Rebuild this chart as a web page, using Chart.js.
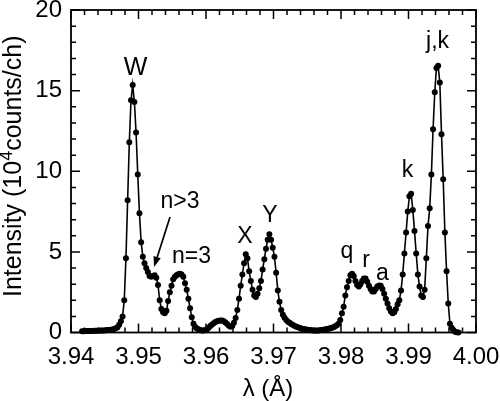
<!DOCTYPE html>
<html><head><meta charset="utf-8">
<script src="https://cdn.jsdelivr.net/npm/chart.js@4.4.1/dist/chart.umd.min.js"></script>
<style>html,body{margin:0;padding:0;background:#fff;}canvas{display:block;}</style>
</head><body>
<canvas id="c" width="500" height="401"></canvas>
<script>
// ---- data ----
const lambdaStart = 3.94164;   // first channel (Å)
const lambdaStep = 0.00025;    // channel width (Å)
const intensity = [
  0.08,0.08,0.09,0.09,0.10,0.10,0.10,0.11,0.11,0.11,
  0.12,0.12,0.12,0.13,0.14,0.15,0.16,0.17,0.19,0.22,
  0.27,0.33,0.48,0.70,1.00,2.00,4.60,8.20,11.80,14.40,
  15.35,14.30,12.40,9.80,7.40,5.60,4.70,4.30,4.00,3.75,
  3.50,3.45,3.50,3.55,3.40,2.95,2.00,1.45,1.25,1.20,
  1.35,1.95,2.50,2.90,3.30,3.45,3.55,3.62,3.65,3.60,
  3.45,3.05,2.65,2.10,1.50,0.95,0.55,0.35,0.25,0.20,
  0.15,0.12,0.12,0.15,0.20,0.30,0.40,0.50,0.58,0.65,
  0.70,0.73,0.75,0.74,0.70,0.62,0.52,0.42,0.36,0.40,
  0.60,0.90,1.40,2.10,2.90,3.60,4.30,4.85,4.60,3.80,
  3.20,2.65,2.30,2.20,2.40,2.75,3.20,3.90,4.55,5.20,
  5.75,6.10,5.75,5.25,4.70,3.70,2.60,1.90,1.40,1.10,
  0.92,0.78,0.66,0.60,0.52,0.46,0.40,0.36,0.32,0.28,
  0.25,0.22,0.20,0.18,0.16,0.15,0.14,0.13,0.13,0.13,
  0.13,0.14,0.15,0.17,0.19,0.21,0.24,0.27,0.30,0.33,
  0.38,0.45,0.55,0.78,1.20,1.60,2.30,2.80,3.20,3.55,
  3.65,3.50,3.20,2.95,2.85,3.00,3.20,3.35,3.35,3.15,
  2.90,2.70,2.55,2.55,2.70,2.85,2.92,2.90,2.70,2.40,
  2.10,1.80,1.50,1.30,1.20,1.25,1.45,1.75,2.00,2.60,
  3.60,4.90,6.20,7.50,8.45,8.60,7.60,6.30,4.90,3.60,
  2.85,2.30,2.20,2.65,4.60,6.60,7.70,9.80,12.60,14.90,
  16.40,16.55,15.50,12.30,9.50,6.20,3.80,1.80,0.55,0.30,
  0.15,0.05,0.02,0.00
];
const xTickValues = [3.94, 3.95, 3.96, 3.97, 3.98, 3.99, 4.00];
const yTickValues = [0, 5, 10, 15, 20];
const xMinorStep = 0.002;
const yMinorStep = 1;
const lineLabels = ['W', 'n>3', 'n=3', 'X', 'Y', 'q', 'r', 'a', 'k', 'j,k'];
const lineLabelX = [3.94956, 3.95615, 3.95785, 3.96578, 3.96948, 3.98089, 3.98370, 3.98615, 3.98985, 3.99430];
const lineLabelY = [15.99, 7.72, 4.31, 5.55, 6.85, 4.62, 4.06, 3.25, 9.64, 17.64];
const arrowFrom = [3.95467, 7.17];
const arrowTo = [3.9523, 4.06];

const FONT = '"Liberation Sans", Arial, Helvetica, sans-serif';
const points = intensity.map((v, i) => ({ x: lambdaStart + i * lambdaStep, y: v }));

const decor = {
  id: 'decor',
  beforeDatasetsDraw(chart) {
    const { ctx, chartArea: a, scales: { x, y } } = chart;
    ctx.save();
    ctx.strokeStyle = '#000';
    ctx.lineWidth = 1.8;
    ctx.strokeRect(a.left, a.top, a.right - a.left, a.bottom - a.top);
    ctx.lineWidth = 1.5;
    ctx.beginPath();
    const nx = Math.round((x.max - x.min) / xMinorStep);
    for (let k = 0; k <= nx; k++) {
      const px = x.getPixelForValue(x.min + k * xMinorStep);
      const L = k % 5 === 0 ? 9 : 5;
      ctx.moveTo(px, a.bottom); ctx.lineTo(px, a.bottom - L);
      ctx.moveTo(px, a.top); ctx.lineTo(px, a.top + L);
    }
    const ny = Math.round((y.max - y.min) / yMinorStep);
    for (let k = 0; k <= ny; k++) {
      const py = y.getPixelForValue(y.min + k * yMinorStep);
      const L = k % 5 === 0 ? 9 : 5;
      ctx.moveTo(a.left, py); ctx.lineTo(a.left + L, py);
      ctx.moveTo(a.right, py); ctx.lineTo(a.right - L, py);
    }
    ctx.stroke();
    ctx.restore();
  },
  afterDatasetsDraw(chart) {
    const { ctx, chartArea: a, scales: { x, y } } = chart;
    ctx.save();
    ctx.fillStyle = '#000';
    ctx.textAlign = 'center';
    ctx.textBaseline = 'alphabetic';
    lineLabels.forEach((t, i) => {
      ctx.font = (t === 'W' ? 25 : 23) + 'px ' + FONT;
      ctx.fillText(t, x.getPixelForValue(lineLabelX[i]), y.getPixelForValue(lineLabelY[i]));
    });
    // arrow
    const x0 = x.getPixelForValue(arrowFrom[0]), y0 = y.getPixelForValue(arrowFrom[1]);
    const x1 = x.getPixelForValue(arrowTo[0]), y1 = y.getPixelForValue(arrowTo[1]);
    const ang = Math.atan2(y1 - y0, x1 - x0);
    ctx.strokeStyle = '#000'; ctx.lineWidth = 1.7;
    ctx.beginPath(); ctx.moveTo(x0, y0);
    ctx.lineTo(x1 - 8 * Math.cos(ang), y1 - 8 * Math.sin(ang)); ctx.stroke();
    ctx.beginPath();
    ctx.moveTo(x1, y1);
    ctx.lineTo(x1 - 11 * Math.cos(ang - 0.35), y1 - 11 * Math.sin(ang - 0.35));
    ctx.lineTo(x1 - 11 * Math.cos(ang + 0.35), y1 - 11 * Math.sin(ang + 0.35));
    ctx.closePath(); ctx.fill();
    // x title
    ctx.font = '24px ' + FONT;
    ctx.fillText('λ (Å)', 268, 396);
    // y title
    ctx.translate(21, (a.top + a.bottom) / 2 - 5);
    ctx.rotate(-Math.PI / 2);
    const p1 = 'Intensity (10', p2 = '4', p3 = 'counts/ch)';
    ctx.font = '25px ' + FONT; const w1 = ctx.measureText(p1).width, w3 = ctx.measureText(p3).width;
    ctx.font = '18px ' + FONT; const w2 = ctx.measureText(p2).width;
    let sx = -(w1 + w2 + w3) / 2;
    ctx.textAlign = 'left';
    ctx.font = '25px ' + FONT; ctx.fillText(p1, sx, 0); sx += w1;
    ctx.font = '18px ' + FONT; ctx.fillText(p2, sx, -9); sx += w2;
    ctx.font = '25px ' + FONT; ctx.fillText(p3, sx, 0);
    ctx.restore();
  }
};

new Chart(document.getElementById('c'), {
  type: 'line',
  data: {
    datasets: [{
      data: points,
      borderColor: '#000',
      backgroundColor: '#000',
      borderWidth: 1.6,
      pointRadius: 3,
      pointBackgroundColor: '#000',
      pointBorderWidth: 0,
      tension: 0,
      clip: false
    }]
  },
  options: {
    responsive: false,
    animation: false,
    devicePixelRatio: 1,
    layout: { padding: { top: 10, right: 24, left: 0, bottom: 0 } },
    plugins: { legend: { display: false }, tooltip: { enabled: false } },
    scales: {
      x: {
        type: 'linear', min: 3.94, max: 4.00,
        grid: { display: false, drawTicks: false }, border: { display: false },
        afterBuildTicks: s => { s.ticks = xTickValues.map(v => ({ value: v })); },
        afterFit: s => { s.height = 68.5; s.paddingLeft = 0; s.paddingRight = 0; },
        ticks: { color: '#000', font: { family: FONT, size: 24 }, padding: 10, maxRotation: 0,
                 callback: v => Number(v).toFixed(2) }
      },
      y: {
        type: 'linear', min: 0, max: 20,
        grid: { display: false, drawTicks: false }, border: { display: false },
        afterBuildTicks: s => { s.ticks = yTickValues.map(v => ({ value: v })); },
        afterFit: s => { s.width = 71; s.paddingTop = 0; s.paddingBottom = 0; },
        ticks: { color: '#000', font: { family: FONT, size: 24 }, padding: 9,
                 callback: v => String(v) }
      }
    }
  },
  plugins: [decor]
});
</script>
</body></html>
